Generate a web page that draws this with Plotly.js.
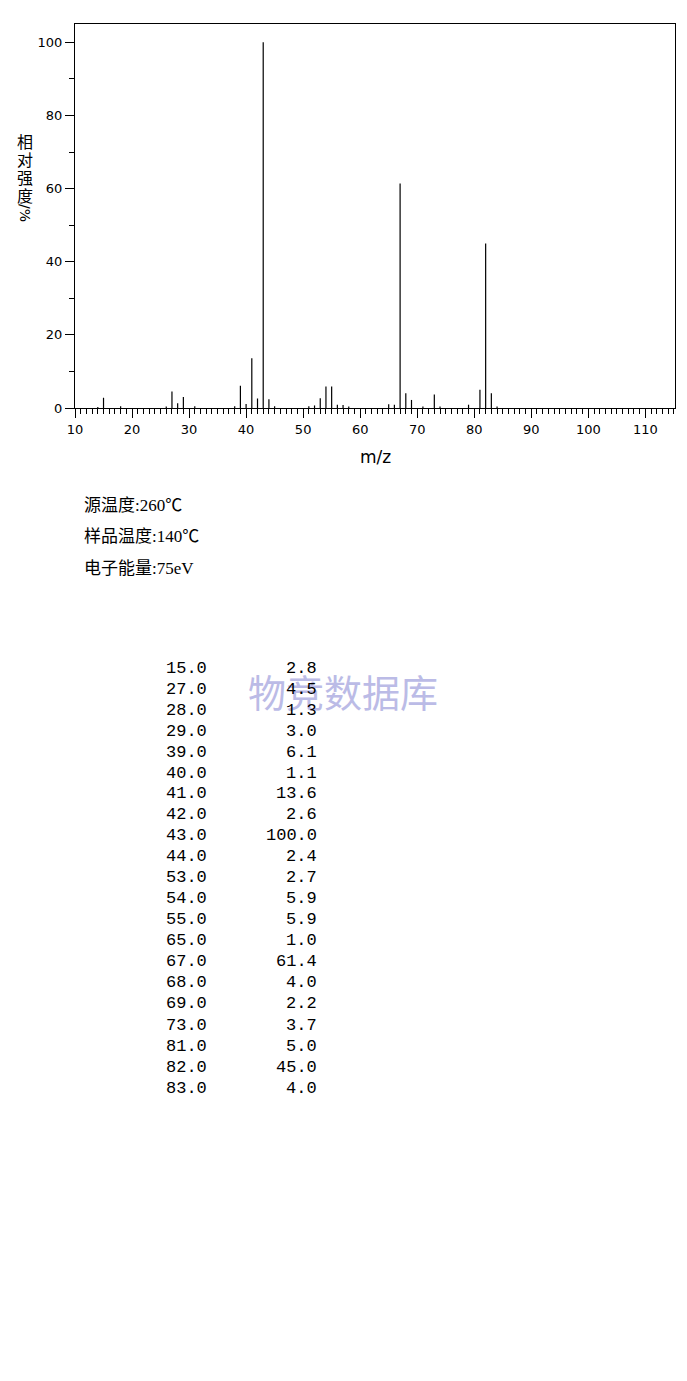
<!DOCTYPE html>
<html>
<head>
<meta charset="utf-8">
<script src="https://cdn.plot.ly/plotly-3.0.1.min.js"></script>
<style>
  html, body { margin: 0; padding: 0; background: #fff; }
  #chart { width: 687px; height: 1381px; }
</style>
</head>
<body>
<div id="chart"></div>
<script>
// ---- data ----
const peakMz = [15, 27, 28, 29, 39, 40, 41, 42, 43, 44, 53, 54, 55, 65, 67, 68, 69, 73, 81, 82, 83];
const peakIntensity = [2.8, 4.5, 1.3, 3.0, 6.1, 1.1, 13.6, 2.6, 100.0, 2.4, 2.7, 5.9, 5.9, 1.0, 61.4, 4.0, 2.2, 3.7, 5.0, 45.0, 4.0];
// small unlisted peaks visible on the spectrum (estimated)
const minorMz = [14, 18, 26, 31, 38, 45, 51, 52, 56, 57, 58, 66, 71, 74, 79, 84];
const minorIntensity = [0.3, 0.5, 0.4, 0.5, 0.5, 0.5, 0.5, 0.7, 0.9, 0.8, 0.4, 0.9, 0.4, 0.4, 0.9, 0.4];
const infoLabels = ["源温度", "样品温度", "电子能量"];
const infoValues = ["260℃", "140℃", "75eV"];
const yTitleChars = ["相", "对", "强", "度"];
const yTitleTail = "/%";
const xTitle = "m/z";
const watermark = "物竞数据库";

// ---- build stick traces ----
function sticks(xs, ys) {
  const x = [], y = [];
  for (let i = 0; i < xs.length; i++) {
    x.push(xs[i], xs[i], null);
    y.push(0, ys[i], null);
  }
  return { x: x, y: y };
}
const allMz = peakMz.concat(minorMz);
const allInt = peakIntensity.concat(minorIntensity);
const s = sticks(allMz, allInt);

const traces = [{
  type: 'scatter', mode: 'lines', x: s.x, y: s.y,
  line: { color: '#000', width: 1.2 }, hoverinfo: 'skip', showlegend: false
}];

// ---- geometry helpers (pixel -> paper) ----
const W = 687, H = 1381;
const mL = 75, mR = 12, mT = 24, mB = H - 408;
const pw = W - mL - mR, ph = H - mT - mB;
const px = v => (v - mL) / pw;
const py = v => (H - mB - v) / ph;

const ann = [];
// y axis title (stacked)
yTitleChars.forEach((c, i) => {
  ann.push({ xref: 'paper', yref: 'paper', x: px(25), y: py(140.5 + i * 18.3),
    xanchor: 'center', yanchor: 'middle', showarrow: false, text: c,
    font: { family: 'Noto Sans CJK SC', size: 16, color: '#000' } });
});
ann.push({ xref: 'paper', yref: 'paper', x: px(25), y: py(213), xanchor: 'center', yanchor: 'middle',
  showarrow: false, text: yTitleTail, textangle: 90,
  font: { family: 'DejaVu Sans', size: 14, color: '#000' } });
// x axis title
ann.push({ xref: 'paper', yref: 'paper', x: px(375), y: py(457), xanchor: 'center', yanchor: 'middle',
  showarrow: false, text: xTitle, font: { family: 'DejaVu Sans', size: 17, color: '#000' } });
// info lines
infoLabels.forEach((lab, i) => {
  ann.push({ xref: 'paper', yref: 'paper', x: px(82), y: py(505 + i * 31.5), xanchor: 'left', yanchor: 'middle',
    showarrow: false, text: lab + ':' + infoValues[i],
    font: { family: 'Liberation Serif, Noto Sans CJK SC', size: 17, color: '#000' } });
});
// watermark
ann.push({ xref: 'paper', yref: 'paper', x: px(343), y: py(690), xanchor: 'center', yanchor: 'middle',
  showarrow: false, text: watermark, opacity: 0.75,
  font: { family: 'Noto Sans CJK SC', size: 38, color: 'rgb(165,165,222)' } });
// peak table
peakMz.forEach((m, i) => {
  const yy = py(668 + i * 21);
  ann.push({ xref: 'paper', yref: 'paper', x: px(164), y: yy, xanchor: 'left', yanchor: 'middle',
    showarrow: false, text: m.toFixed(1), font: { family: 'Liberation Mono', size: 17, color: '#000' } });
  ann.push({ xref: 'paper', yref: 'paper', x: px(319), y: yy, xanchor: 'right', yanchor: 'middle',
    showarrow: false, text: peakIntensity[i].toFixed(1), font: { family: 'Liberation Mono', size: 17, color: '#000' } });
});

const axisCommon = {
  showline: true, linecolor: '#000', linewidth: 1, mirror: true,
  showgrid: false, zeroline: false, ticks: 'outside', ticklen: 9, tickwidth: 1, tickcolor: '#000',
  tickfont: { family: 'DejaVu Sans', size: 13, color: '#000' }, fixedrange: true
};

const layout = {
  width: W, height: H,
  margin: { l: mL, r: mR, t: mT, b: mB, pad: 0 },
  paper_bgcolor: '#fff', plot_bgcolor: '#fff',
  showlegend: false,
  xaxis: Object.assign({}, axisCommon, {
    range: [10, 115.2], tickmode: 'linear', tick0: 10, dtick: 10,
    minor: { dtick: 1, tick0: 10, ticks: 'outside', ticklen: 5, tickwidth: 1, tickcolor: '#000', showgrid: false }
  }),
  yaxis: Object.assign({}, axisCommon, {
    range: [0, 105], tickmode: 'linear', tick0: 0, dtick: 20,
    minor: { dtick: 10, tick0: 0, ticks: 'outside', ticklen: 5, tickwidth: 1, tickcolor: '#000', showgrid: false }
  }),
  annotations: ann
};

Plotly.newPlot('chart', traces, layout, { displayModeBar: false, staticPlot: true });
</script>
</body>
</html>
